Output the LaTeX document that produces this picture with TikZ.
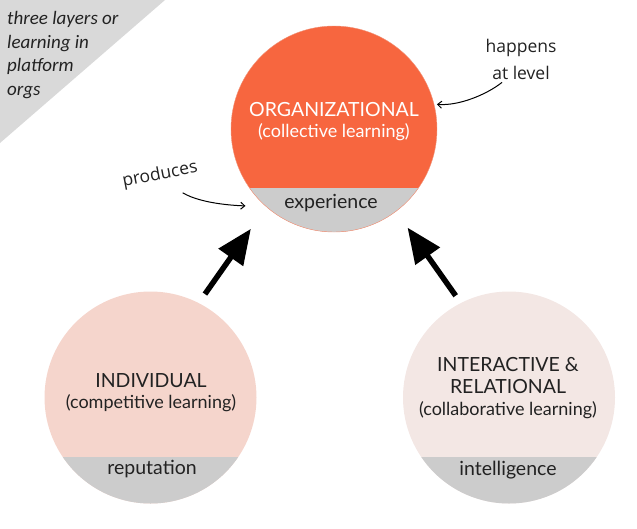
\documentclass[tikz,border=0pt]{standalone}
\usepackage{fontspec}
\setmainfont{Lato}
\newfontfamily\notefont{Carlito}
\newfontfamily\handfont{Open Sans}
\usepackage{tikz}
\usetikzlibrary{arrows.meta,positioning}
\usepackage{xcolor}
\definecolor{orgred}{RGB}{247,102,63}
\definecolor{orgline}{RGB}{240,150,125}
\definecolor{indfill}{RGB}{245,213,204}
\definecolor{relfill}{RGB}{243,231,228}
\definecolor{bandgray}{RGB}{204,204,204}
\definecolor{notegray}{RGB}{217,217,217}
\definecolor{darktext}{RGB}{34,34,34}
\newcommand{\subtitle}[1]{{\fontsize{18}{21}\selectfont #1}}

\begin{document}
\begin{tikzpicture}[x=1pt, y=-1pt,
    layer/.style={circle, outer sep=0pt, inner sep=0pt,
        path picture={\fill[bandgray] ([yshift=-59pt]path picture bounding box.west) rectangle (path picture bounding box.south east);}},
    caption/.style={anchor=base, align=center, inner sep=0pt, text=darktext, font=\fontsize{19.5}{21}\selectfont},
    bandlabel/.style={anchor=base, inner sep=0pt, text=darktext, font=\fontsize{19.5}{21}\selectfont},
    hand/.style={inner sep=0pt, text=darktext, align=center, font=\handfont\fontsize{17.5}{27}\selectfont},
    bigarrow/.style={-{Triangle[length=35pt,width=29pt]}, line width=5.5pt},
    notearrow/.style={-{Straight Barb[length=4pt,width=7pt]}, line width=1pt}]
    \useasboundingbox (0,0) rectangle (637,528);

    % corner note
    \fill[notegray] (0,0) -- (165,0) -- (0,143) -- cycle;
    \node[anchor=base west, align=left, inner sep=0pt, text=darktext, font=\notefont\itshape\fontsize{19}{23.5}\selectfont] (cornernote) at (7,95) {three layers or\\learning in\\platform\\orgs};

    % the three layers
    \node[layer, fill=orgred, draw=orgline, minimum size=206pt] (org) at (334,129) {};
    \node[layer, fill=indfill, minimum size=212pt] (indiv) at (150.5,397.5) {};
    \node[layer, fill=relfill, minimum size=212pt] (inter) at (509,397.5) {};

    \node[caption, text=white] (orgtitle) at (334,137.5) {ORGANIZATIONAL\\\subtitle{(collective learning)}};
    \node[caption] (indivtitle) at (151,408) {INDIVIDUAL\\\subtitle{(competitive learning)}};
    \node[caption] (intertitle) at (508,415) {INTERACTIVE \&\\[1pt]RELATIONAL\\[1pt]\subtitle{(collaborative learning)}};

    \node[bandlabel] (experience) at (331,208) {experience};
    \node[bandlabel] (reputation) at (152,474) {reputation};
    \node[bandlabel] (intelligence) at (508,475) {intelligence};

    \draw[bigarrow, shorten <=11pt, shorten >=27pt] (indiv.63) -- (org.229);
    \draw[bigarrow, shorten <=9pt, shorten >=20pt] (inter.117) -- (org.307);

    % handwritten notes
    \node[hand, anchor=base] (happens) at (521,79) {happens\\at level};
    \node[hand, rotate=11] (produces) at (160,175) {produces};

    \draw[notearrow, shorten >=3pt] ([xshift=-19pt,yshift=-3pt]happens.south) .. controls +(-15,12) and +(25,2) .. (org.14);
    \draw[notearrow, shorten >=21pt] ([shift={(21,9)}]produces.south) .. controls +(20,12) and +(-25,-1) .. (org.229);
\end{tikzpicture}
\end{document}
